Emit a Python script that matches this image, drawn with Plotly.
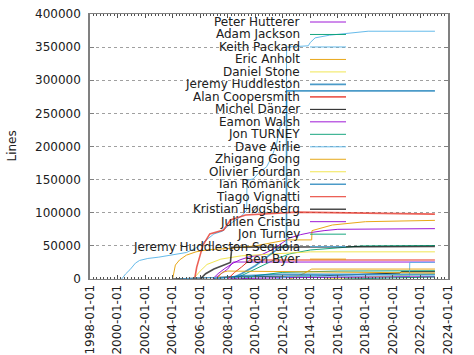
import plotly.graph_objects as go
import pandas as pd

# ---------------- data (legend order) ----------------
authors = ["Peter Hutterer", "Adam Jackson", "Keith Packard", "Eric Anholt", "Daniel Stone",
           "Jeremy Huddleston", "Alan Coopersmith", "Michel Dänzer", "Eamon Walsh", "Jon TURNEY",
           "Dave Airlie", "Zhigang Gong", "Olivier Fourdan", "Ian Romanick", "Tiago Vignatti",
           "Kristian Høgsberg", "Julien Cristau", "Jon Turney", "Jeremy Huddleston Sequoia", "Ben Byer"]

colors = ["#9400d3", "#009e73", "#56b4e9", "#e69f00", "#f0e442", "#0072b2", "#e51e10", "#000000",
          "#9400d3", "#009e73", "#56b4e9", "#e69f00", "#f0e442", "#0072b2", "#e51e10", "#000000",
          "#9400d3", "#009e73", "#56b4e9", "#e69f00"]

# decimal-year time stamps and cumulative line counts per author
years = [
    [2006.9, 2007.3, 2007.8, 2008.4, 2008.9, 2009.5, 2010.5, 2011.3, 2012.0, 2012.5, 2013.3, 2014.0, 2015.0, 2016.0, 2023.05],
    [2008.5, 2009.5, 2010.5, 2011.5, 2012.5, 2014.0, 2016.0, 2017.8, 2023.05],
    [2000.3, 2000.6, 2000.9, 2001.3, 2001.6, 2002.2, 2003.0, 2004.0, 2005.0, 2005.8, 2006.5, 2007.0, 2007.6, 2008.3,
     2009.0, 2009.38, 2009.4, 2009.86, 2010.22, 2010.83, 2011.2, 2011.56, 2011.8, 2012.26, 2012.28, 2013.85, 2014.0,
     2014.35, 2015.4, 2016.6, 2018.2, 2023.05],
    [2004.0, 2004.2, 2004.5, 2005.0, 2005.7, 2006.5, 2008.0, 2010.0, 2012.3, 2014.1, 2014.12, 2014.7, 2015.6, 2018.0, 2023.05],
    [2005.5, 2006.0, 2006.5, 2007.5, 2009.0, 2012.0, 2014.0, 2023.05],
    [2008.2, 2009.0, 2010.0, 2011.0, 2011.8, 2012.27, 2012.28, 2023.05],
    [2005.6, 2005.75, 2006.0, 2006.2, 2006.7, 2007.7, 2008.2, 2009.3, 2013.0, 2023.05],
    [2004.0, 2008.0, 2015.0, 2020.5, 2020.6, 2023.05],
    [2007.0, 2007.5, 2008.0, 2008.4, 2023.05],
    [2009.0, 2010.0, 2012.0, 2016.0, 2023.05],
    [2004.5, 2006.0, 2010.0, 2021.2, 2021.22, 2023.05],
    [2012.5, 2013.5, 2014.1, 2023.05],
    [2015.0, 2017.0, 2019.0, 2021.0, 2023.05],
    [2007.0, 2009.0, 2012.0, 2023.05],
    [2008.0, 2008.5, 2009.0, 2009.6, 2023.05],
    [2006.0, 2006.4, 2007.0, 2008.2, 2008.3, 2023.05],
    [2008.0, 2012.0, 2023.05],
    [2016.5, 2023.05],
    [2011.5, 2012.5, 2015.0, 2023.05],
    [2007.2, 2007.6, 2008.0, 2023.05],
]
lines = [
    [0, 8000, 16000, 24000, 29000, 33000, 37000, 45000, 55000, 62000, 67000, 70000, 73000, 75000, 76000],
    [0, 10000, 20000, 30000, 38000, 43800, 47000, 50000, 50500],
    [0, 8000, 14000, 24000, 28000, 31000, 33000, 36000, 40000, 48000, 60000, 68000, 72000, 85000,
     95000, 104000, 149000, 151000, 159500, 169500, 184500, 204800, 229800, 240000, 350000, 352000, 357000,
     364000, 368000, 371000, 374000, 374000],
    [0, 21000, 28700, 36000, 41000, 44000, 46000, 50000, 59000, 59000, 73000, 76500, 81500, 86500, 88500],
    [0, 12000, 22000, 30000, 35000, 38000, 41000, 41000],
    [0, 8000, 20000, 35000, 48000, 48000, 284000, 284000],
    [0, 18000, 36000, 51000, 68000, 74000, 89000, 96600, 101000, 98000],
    [0, 3000, 5000, 9000, 11000, 11000],
    [0, 8000, 15000, 25600, 25600],
    [0, 5000, 10000, 12000, 12500],
    [0, 2000, 3000, 3500, 25000, 25200],
    [0, 8000, 15000, 15000],
    [0, 2000, 4500, 6500, 7500],
    [0, 5000, 7000, 7000],
    [0, 10000, 18000, 28700, 28700],
    [0, 8000, 15000, 25000, 48000, 49000],
    [0, 2000, 3500],
    [0, 3000],
    [0, 4000, 6000, 6000],
    [0, 10000, 12000, 9000],
]

widths = [1.0] * 20
widths[5] = 1.6
widths[6] = 1.6
widths[13] = 1.6
widths[15] = 1.6

y_ticks = [0, 50000, 100000, 150000, 200000, 250000, 300000, 350000, 400000]
x_tick_years = list(range(1998, 2025, 2))
x_tick_text = [f"{y}-01-01" for y in x_tick_years]


def to_date(y):
    yr = int(y)
    start = pd.Timestamp(yr, 1, 1)
    end = pd.Timestamp(yr + 1, 1, 1)
    return start + (end - start) * (y - yr)


fig = go.Figure()
for name, col, w, ts, vs in zip(authors, colors, widths, years, lines):
    fig.add_trace(go.Scatter(
        x=[to_date(t) for t in ts], y=vs, mode="lines", name=name,
        line=dict(color=col, width=w), opacity=0.7 if w > 1.5 else 0.9,
        showlegend=False, hoverinfo="skip"))

FONT = "DejaVu Sans"
L, R, T, B = 90, 26, 14, 76
W, H = 474, 355
pw, ph = W - L - R, H - T - B


def px2paper_x(px):
    return (px - L) / pw


def px2paper_y(py):
    return (H - B - py) / ph


# key (gnuplot style: text right-aligned, sample line on its right)
shapes = [dict(type="rect", xref="paper", yref="paper", layer="between",
               x0=px2paper_x(96), x1=px2paper_x(352), y0=px2paper_y(266), y1=1,
               fillcolor="white", line=dict(width=0))]
annotations = []
for i, (name, col, w) in enumerate(zip(authors, colors, widths)):
    py = 22 + 12.48 * i
    annotations.append(dict(x=px2paper_x(302), y=px2paper_y(py), xref="paper", yref="paper",
                            text=name, showarrow=False, xanchor="right", yanchor="middle",
                            font=dict(family=FONT, size=12, color="#202020")))
    shapes.append(dict(type="line", xref="paper", yref="paper", layer="above",
                       x0=px2paper_x(310), x1=px2paper_x(346), y0=px2paper_y(py), y1=px2paper_y(py),
                       line=dict(color=col, width=w), opacity=0.7 if w > 1.5 else 0.9))

annotations.append(dict(x=px2paper_x(11), y=0.5, xref="paper", yref="paper", text="Lines",
                        textangle=-90, showarrow=False, xanchor="center", yanchor="middle",
                        font=dict(family=FONT, size=12, color="#202020")))

fig.update_layout(
    width=W, height=H, margin=dict(l=L, r=R, t=T, b=B, autoexpand=False),
    paper_bgcolor="white", plot_bgcolor="white",
    font=dict(family=FONT, size=12, color="#202020"),
    shapes=shapes, annotations=annotations, showlegend=False,
)
fig.update_xaxes(
    automargin=False,
    range=[pd.Timestamp(1998, 1, 1), pd.Timestamp(2024, 1, 1)],
    tickvals=[pd.Timestamp(y, 1, 1) for y in x_tick_years], ticktext=x_tick_text,
    tickangle=-90, ticks="inside", ticklen=4, tickcolor="#505050",
    showline=True, linecolor="#808080", linewidth=1, mirror="allticks",
    showgrid=False, zeroline=False,
    minor=dict(ticks="inside", ticklen=2, dtick="M3", tickcolor="#505050", showgrid=False),
    tickfont=dict(family=FONT, size=12, color="#202020"),
)
fig.update_yaxes(
    automargin=False,
    range=[0, 400000], tickvals=y_ticks, ticktext=[str(v) for v in y_ticks],
    ticks="inside", ticklen=4, tickcolor="#808080", ticklabelstandoff=5,
    showline=True, linecolor="#808080", linewidth=1.5, mirror="allticks",
    showgrid=True, gridcolor="#a0a0a0", griddash="dot", gridwidth=1, zeroline=False,
    tickfont=dict(family=FONT, size=12, color="#202020"),
)

fig.write_html("out.html")
